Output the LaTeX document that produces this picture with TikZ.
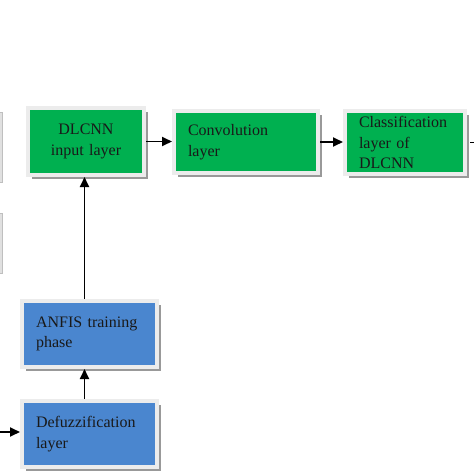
\documentclass[tikz,border=0pt]{standalone}
\usepackage{fontspec}
\setmainfont{Liberation Serif}
\usetikzlibrary{arrows.meta,shadows}
\definecolor{layergreen}{RGB}{0,176,80}
\definecolor{layerblue}{RGB}{74,134,207}
\definecolor{layerframe}{RGB}{236,236,236}
\tikzset{
	layerbox/.style={rectangle, draw=layerframe, line width=4pt, inner xsep=14pt, inner ysep=2pt, align=left, text=black!90, font=\fontsize{16}{20.5}\selectfont, drop shadow={shadow xshift=4pt, shadow yshift=-4pt, fill=black!40, opacity=1}},
	greenbox/.style={layerbox, fill=layergreen},
	bluebox/.style={layerbox, fill=layerblue},
	flow/.style={line width=1.8pt, -{Triangle[length=10pt,width=9pt]}}
}

\begin{document}
\begin{tikzpicture}[x=1pt, y=-1pt]
			%%%%% START %%%%%
			
			\clip (0, 0) rectangle (474, 474);
			
			\draw[fill=black!12, draw=black!25] (-20, 112) rectangle (2, 182);
			\draw[fill=black!12, draw=black!25] (-20, 213) rectangle (2, 273);
			
			\node[greenbox, text width=88pt, align=center, minimum height=67pt] (dlcnn) at (86, 141.5) {DLCNN\\input layer};
			\node[greenbox, text width=116pt, minimum height=62pt] (conv) at (246, 142) {Convolution\\layer};
			\node[greenbox, text width=92pt, minimum height=63pt] (classif) at (405, 142.5) {Classification\\layer of\\DLCNN};
			
			\node[bluebox, text width=107pt, minimum height=66pt] (anfis) at (89.5, 334) {ANFIS training\\phase};
			\node[bluebox, text width=107pt, minimum height=66pt] (defuzz) at (89.5, 434) {Defuzzification\\layer};
			
			\coordinate (entry) at (0, 432);
			\coordinate (exit) at (480, 142.5);
			
			\draw[flow] (dlcnn.east) -- (dlcnn.east -| conv.west);
			\draw[flow] (conv.east) -- (conv.east -| classif.west);
			\draw[line width=1.8pt] ([xshift=3pt]classif.east) -- (exit);
			
			\draw[flow] (entry) -- (entry -| defuzz.west);
			\draw[flow] ([xshift=-5pt]defuzz.north) -- ([xshift=-5pt]anfis.south);
			\draw[flow] ([xshift=-5pt]anfis.north) -- ([xshift=-5pt]anfis.north |- dlcnn.south);
			
			%%%%% END %%%%%
\end{tikzpicture}
\end{document}
